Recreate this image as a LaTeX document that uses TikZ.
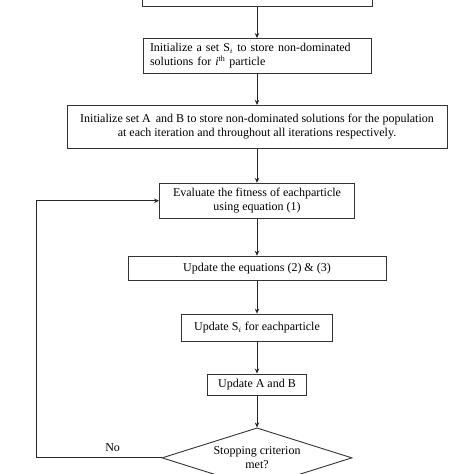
\documentclass[tikz,border=0pt]{standalone}
\usepackage{fontspec}
\setmainfont{Liberation Serif}
\usetikzlibrary{arrows.meta,shapes.geometric,positioning}

\begin{document}
\begin{tikzpicture}[
  proc/.style={rectangle, draw=black!80, line width=0.9pt, fill=white, font=\fontsize{12}{14}\selectfont, align=center, inner sep=3pt},
  decide/.style={diamond, aspect=3.2, draw=black!80, line width=0.9pt, fill=white, font=\fontsize{12}{14}\selectfont, align=center, inner sep=1pt, minimum width=190pt, minimum height=60pt},
  lbl/.style={font=\fontsize{12}{14}\selectfont},
  arr/.style={-{Stealth[length=5pt,width=4.5pt]}, line width=0.75pt, draw=black!85},
  node distance=31pt
]
\useasboundingbox (0,0) rectangle (474pt,-474pt);
\clip (0,0) rectangle (474pt,-474pt);
\node[proc, anchor=south, minimum width=230pt, minimum height=30pt] (start) at (257pt,-7pt) {};
\node[proc, below=31pt of start, minimum width=228pt, minimum height=35pt, text width=214pt, align=left] (setS) {Initialize a set S$_i$ to store non-dominated\\solutions for \textit{i}\textsuperscript{th} particle};
\node[proc, below=31pt of setS, minimum width=380pt, minimum height=43pt] (setAB) {Initialize set A\, and B to store non-dominated solutions for the population\\at each iteration and throughout all iterations respectively.};
\node[proc, below=34pt of setAB, minimum width=195pt, minimum height=35pt] (eval) {Evaluate the fitness of eachparticle\\using equation (1)};
\node[proc, below=37pt of eval, minimum width=258pt, minimum height=24pt] (upeq) {Update the equations (2) \& (3)};
\node[proc, below=33pt of upeq, minimum width=151pt, minimum height=27pt] (upS) {Update S$_i$ for eachparticle};
\node[proc, below=32pt of upS, minimum width=99pt, minimum height=21pt] (upAB) {Update A and B};
\node[decide, below=32pt of upAB] (stop) {Stopping criterion\\met?};
\coordinate (back) at (36pt,0);
\draw[arr] (start) -- (setS);
\draw[arr] (setS) -- (setAB);
\draw[arr] (setAB) -- (eval);
\draw[arr] (eval) -- (upeq);
\draw[arr] (upeq) -- (upS);
\draw[arr] (upS) -- (upAB);
\draw[arr] (upAB) -- (stop);
\draw[arr] (stop.west) -- node[lbl, above=3pt, pos=0.39] (no) {No} (stop.west -| back) |- (eval.west);
\end{tikzpicture}
\end{document}
